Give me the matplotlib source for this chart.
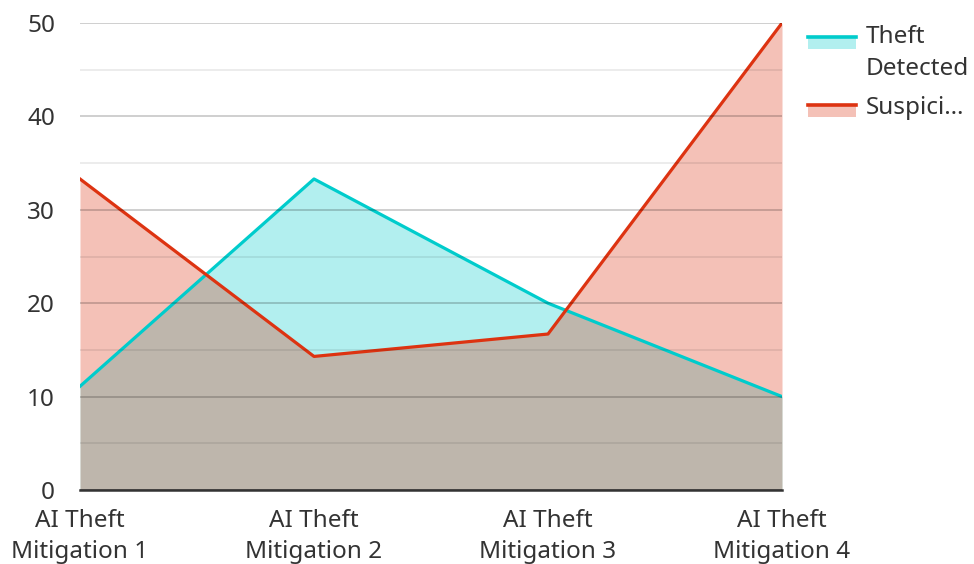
import matplotlib.pyplot as plt
from matplotlib.legend_handler import HandlerBase
from matplotlib.patches import Rectangle
from matplotlib.lines import Line2D
from matplotlib.ticker import MultipleLocator

plt.rcParams['font.family'] = ['Noto Sans', 'DejaVu Sans']

categories = ['AI Theft\nMitigation 1', 'AI Theft\nMitigation 2',
              'AI Theft\nMitigation 3', 'AI Theft\nMitigation 4']
theft_detected = [11.1, 33.3, 20.0, 10.0]
suspicious = [33.3, 14.3, 16.7, 50.0]
series_labels = ['Theft\nDetected', 'Suspici…']

teal = '#00cccc'
red = '#dd3311'
fs = 17.5
lsp = 1.35
leg_lsp = 1.45


class HandlerArea(HandlerBase):
    # line sitting on top of a light filled block, next to the first text line
    def create_artists(self, legend, orig_handle, xdescent, ydescent,
                       width, height, fontsize, trans):
        c = orig_handle.get_color()
        n = orig_handle.get_label().count('\n')
        shift = n * 0.47 * leg_lsp * 0.93 * fontsize
        top = -ydescent + height * 0.55 + shift
        rect = Rectangle((-xdescent, top - height * 0.72), width, height * 0.72,
                         facecolor=c, alpha=0.3, edgecolor='none', transform=trans)
        line = Line2D([-xdescent, -xdescent + width], [top, top], color=c,
                      lw=2.6, transform=trans)
        return [rect, line]


fig = plt.figure(figsize=(9.74, 5.64), dpi=100)
ax = fig.add_axes([80/974, 1 - 490/564, 702/974, 467/564])

x = list(range(len(categories)))
ax.fill_between(x, theft_detected, color=teal, alpha=0.3, lw=0)
ax.fill_between(x, suspicious, color=red, alpha=0.3, lw=0)
l1, = ax.plot(x, theft_detected, color=teal, lw=2.3, label=series_labels[0])
l2, = ax.plot(x, suspicious, color=red, lw=2.3, label=series_labels[1])

ax.set_xlim(0, 3)
ax.set_ylim(0, 50)
ax.set_xticks(x)
ax.set_xticklabels(categories, linespacing=lsp)
ax.yaxis.set_major_locator(MultipleLocator(10))
ax.yaxis.set_minor_locator(MultipleLocator(5))
ax.grid(axis='y', which='major', color='black', alpha=0.22, lw=1.2)
ax.grid(axis='y', which='minor', color='black', alpha=0.09, lw=1.2)
ax.set_axisbelow(False)

for s in ['top', 'right', 'left']:
    ax.spines[s].set_visible(False)
ax.spines['bottom'].set_color('#333333')
ax.spines['bottom'].set_linewidth(1.8)
ax.tick_params(axis='both', which='both', length=0, labelsize=fs, colors='#333333')
ax.tick_params(axis='y', pad=18)
ax.tick_params(axis='x', pad=14)

leg = fig.legend(handles=[l1, l2], loc='upper left', bbox_to_anchor=(798/974, 1 - 15/564),
                 borderaxespad=0, frameon=False, fontsize=fs,
                 handler_map={Line2D: HandlerArea()},
                 handlelength=2.0, handletextpad=0.4, labelspacing=0.64,
                 labelcolor='#333333')
for t in leg.get_texts():
    t.set_linespacing(leg_lsp)

fig.savefig('out.png', dpi=100)
